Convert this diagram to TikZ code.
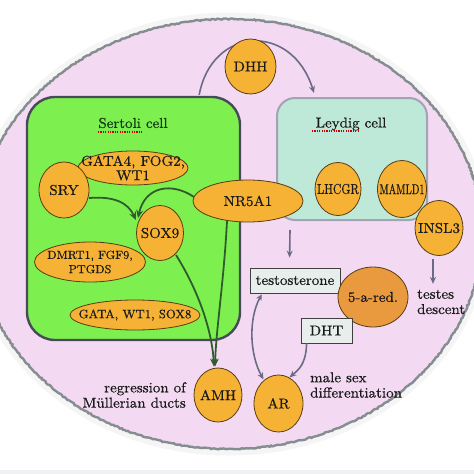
\documentclass[tikz,border=0pt]{standalone}
\usepackage{graphicx}
\usepackage{fontspec}
\setmainfont{lmroman10-regular.otf}[BoldFont=lmroman10-bold.otf, ItalicFont=lmroman10-italic.otf, FakeBold=0.55, FakeStretch=1.05]
\usetikzlibrary{shapes.geometric, arrows.meta, decorations.pathmorphing, calc}
\definecolor{pinkbg}{HTML}{F3DAF2}
\definecolor{rimgray}{HTML}{868D90}
\definecolor{sgreen}{HTML}{7DF050}
\definecolor{sborder}{HTML}{474A58}
\definecolor{lmint}{HTML}{BEE8D8}
\definecolor{lborder}{HTML}{A3A3B3}
\definecolor{orng}{HTML}{F5B235}
\definecolor{orngdark}{HTML}{E99A3E}
\definecolor{nborder}{HTML}{5A3C14}
\definecolor{garrow}{HTML}{6D6A88}
\definecolor{darrow}{HTML}{2F5C2C}
\definecolor{boxfill}{HTML}{E8EEEC}
\definecolor{txt}{HTML}{1A1A1A}
\definecolor{sertolitxt}{HTML}{123A14}
\definecolor{stripgray}{HTML}{EEF2F2}
\newcommand\fs{\fontsize{14.3}{14.3}\selectfont}
\newcommand\fsm{\fontsize{11.6}{14.3}\selectfont}
\newcommand\fsg{\fontsize{12.1}{14.3}\selectfont}
\newcommand\fsl{\fontsize{14.3}{15.3}\selectfont}
\begin{document}
\begin{tikzpicture}[x=1pt,y=-1pt,
  gene/.style={ellipse, draw=nborder, fill=orng, line width=0.8pt, inner sep=-60pt, align=center, text=txt, font=\fs},
  cellbox/.style={rectangle, line width=2.4pt, inner sep=0pt},
  tbox/.style={rectangle, draw=black!75, fill=boxfill, line width=0.8pt, inner sep=0pt, font=\fs, text=txt},
  lbl/.style={font=\fsl, text=txt, inner sep=0pt},
  grayarr/.style={draw=garrow, line width=1.6pt, -{Stealth[length=7pt,width=6pt]}},
  grnarr/.style={draw=darrow, line width=1.8pt, -{Stealth[length=8pt,width=7pt]}},
  spell/.style={draw=red!80!black, line width=1.2pt, dash pattern=on 1.2pt off 1.2pt}
]
\clip (0,0) rectangle (474,474);
\fill[white] (0,0) rectangle (474,474);
\fill[stripgray] (0,470) rectangle (474,474);
% big testis ellipse
\draw[black!4, line width=7pt] (229,234) ellipse [x radius=256, y radius=218];
\fill[pinkbg] (229,234) ellipse [x radius=253, y radius=215];
\draw[rimgray, line width=2.4pt, decorate, decoration={random steps, segment length=1.8pt, amplitude=0.6pt}] (229,234) ellipse [x radius=253, y radius=215];

% cells
\node[cellbox, draw=sborder, fill=sgreen, rounded corners=28pt, minimum width=213pt, minimum height=243pt] (sertoli) at (133.5,218.5) {};
\node[cellbox, draw=lborder, fill=lmint, line width=2pt, rounded corners=18pt, minimum width=150pt, minimum height=122pt] (leydig) at (352,159) {};
\node[lbl, text=sertolitxt] (stitle) at (133,123) {Sertoli cell};
\node[lbl] (ltitle) at (351,124) {Leydig cell};
\draw[spell] (98,132) -- (143,132);
\draw[spell] (312,131) -- (359,131);

% DHH arc (behind DHH)
\draw[grayarr] ($(sertoli.north east)+(-42,-1)$) .. controls (212,26) and (292,22) .. ($(leydig.north west)+(38,-4)$);

% genes
\node[gene, minimum width=51pt, minimum height=55pt] (dhh) at (250.5,66.5) {DHH};
\node[gene, minimum width=110pt, minimum height=34pt] (gata4) at (133,168) {GATA4, FOG2,\\WT1};
\node[gene, minimum width=50pt, minimum height=56pt] (sry) at (64,190) {SRY};
\node[gene, minimum width=47pt, minimum height=55pt] (sox9) at (160,233) {SOX9};
\node[gene, minimum width=110pt, minimum height=42pt] (nr5a1) at (248,201) {NR5A1};
\node[gene, minimum width=111pt, minimum height=40pt, font=\fsm] (dmrt1) at (90,262) {DMRT1, FGF9,\\PTGDS};
\node[gene, minimum width=130pt, minimum height=30pt, font=\fsg] (gata) at (135,315) {GATA, WT1, SOX8};
\node[gene, minimum width=46pt, minimum height=53pt] (lhcgr) at (338,189) {\scalebox{0.77}[1]{LHCGR}};
\node[gene, minimum width=49pt, minimum height=57pt] (mamld1) at (402,189) {\scalebox{0.67}[1]{MAMLD1}};
\node[gene, minimum width=48pt, minimum height=55pt] (insl3) at (439,228) {INSL3};
\node[tbox, minimum width=90pt, minimum height=25pt] (testo) at (295,280.5) {testosterone};
\node[gene, fill=orngdark, minimum width=70pt, minimum height=60pt] (red) at (373,297) {5-a-red.};
\node[tbox, minimum width=51pt, minimum height=25pt] (dht) at (326.5,330.5) {DHT};
\node[gene, minimum width=48pt, minimum height=54pt] (amh) at (218,395) {AMH};
\node[gene, minimum width=49pt, minimum height=57pt] (ar) at (278.5,403.5) {AR};

% labels
\node[lbl, align=left, anchor=west] (testes) at (417,302) {testes\\descent};
\node[lbl, align=right, anchor=east] (regr) at (186,395) {regression of\\Müllerian ducts};
\node[lbl, align=left, anchor=west] (male) at (310,385) {male sex\\differentiation};

% green / dark connectors
\draw[grnarr] ($(sry.center)+(25,8)$) .. controls (115,196) and (128,203) .. ($(sox9.center)+(-24,-13)$);
\draw[grnarr] ($(nr5a1.center)+(-54,-4)$) .. controls (172,182) and (145,186) .. ($(sox9.center)+(-22,-15)$);
\draw[grnarr] ($(nr5a1.center)+(-21,20)$) .. controls (224,280) and (216,330) .. ($(amh.north)+(-3,-1)$);
\draw[grnarr] ($(sox9.center)+(16,22)$) .. controls (198,290) and (212,330) .. ($(amh.north)+(-4,-1)$);

% gray connectors
\draw[grayarr] ($(leydig.south west)+(14,9)$) -- ($(testo.north west)+(40,-10)$);
\draw[grayarr] ($(insl3.south)+(-6,3)$) -- ($(insl3.south)+(-6,28)$);
\draw[draw=garrow, line width=1.6pt, {Stealth[length=6pt,width=6pt]}-{Stealth[length=7pt,width=6pt]}] ($(testo.south west)+(12,1)$) .. controls (248,320) and (250,355) .. ($(ar.center)+(-15,-24)$);
\draw[grayarr] ($(dht.south west)+(6,0)$) .. controls (306,365) and (298,370) .. ($(ar.center)+(11,-26)$);
\end{tikzpicture}
\end{document}
